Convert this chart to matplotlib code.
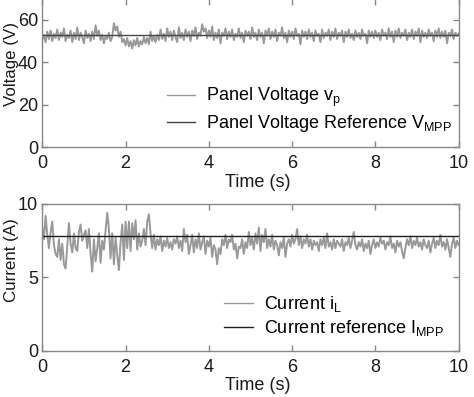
import numpy as np
import matplotlib
matplotlib.use("Agg")
import matplotlib.pyplot as plt

plt.rcParams['font.family'] = ['Liberation Sans', 'DejaVu Sans']
plt.rcParams['mathtext.fontset'] = 'custom'
plt.rcParams['mathtext.rm'] = 'Liberation Sans'
plt.rcParams['mathtext.it'] = 'Liberation Sans'

# time base (s)
t_start, t_end, n_pts = 0.0, 10.0, 251

# panel voltage v_p (V)
voltage = [
    50.5, 53.0, 49.5, 54.5, 51.0, 55.0, 50.0, 53.5, 51.5, 55.5,
    50.5, 54.0, 52.0, 56.0, 50.0, 53.0, 51.5, 55.0, 49.5, 54.0,
    51.0, 56.5, 50.5, 54.0, 52.0, 49.0, 55.0, 51.5, 53.5, 50.0,
    54.5, 51.0, 57.5, 52.5, 55.0, 50.5, 53.0, 49.0, 52.5, 51.0,
    54.0, 50.0, 52.0, 58.5, 55.0, 57.0, 52.0, 54.5, 49.5, 51.0,
    48.0, 51.5, 47.5, 50.0, 46.5, 50.5, 48.0, 51.5, 47.5, 50.0,
    48.5, 52.0, 49.0, 51.5, 48.5, 54.5, 50.0, 52.5, 49.5, 53.0,
    50.5, 55.5, 51.0, 53.5, 50.0, 56.0, 52.0, 54.5, 50.5, 55.0,
    52.0, 49.5, 56.5, 51.5, 54.0, 50.5, 55.5, 52.0, 54.5, 50.0,
    55.0, 52.5, 56.5, 51.0, 54.0, 52.5, 58.0, 54.5, 56.0, 51.5,
    55.0, 52.0, 57.0, 50.5, 54.0, 51.5, 55.5, 49.0, 54.0, 52.5,
    56.0, 51.0, 54.5, 52.0, 55.5, 50.5, 53.5, 52.0, 56.0, 51.5,
    54.0, 49.5, 55.0, 52.5, 54.5, 51.0, 56.5, 52.0, 54.0, 50.5,
    55.5, 52.0, 54.0, 49.0, 55.0, 52.5, 56.0, 51.0, 54.5, 52.0,
    55.5, 50.0, 54.0, 52.5, 56.5, 51.5, 54.0, 49.5, 55.0, 52.0,
    54.5, 51.0, 56.0, 52.5, 53.5, 48.5, 55.0, 52.0, 54.5, 51.0,
    55.5, 52.0, 54.0, 50.0, 55.0, 52.5, 53.5, 49.5, 55.5, 51.5,
    54.0, 52.5, 55.5, 50.5, 54.5, 52.0, 56.0, 51.0, 54.0, 52.5,
    55.0, 49.5, 54.5, 52.0, 55.5, 51.5, 53.5, 50.5, 55.0, 52.0,
    54.0, 51.0, 55.5, 52.5, 53.5, 49.0, 55.0, 52.0, 54.5, 51.5,
    55.0, 52.0, 54.0, 50.5, 55.5, 52.5, 54.0, 51.0, 56.0, 52.0,
    54.5, 49.5, 55.0, 52.0, 56.0, 51.5, 54.0, 52.5, 55.5, 50.5,
    54.0, 52.0, 55.5, 51.0, 54.5, 52.5, 56.0, 49.5, 55.0, 52.0,
    54.0, 51.5, 55.5, 52.5, 54.0, 50.0, 55.0, 52.0, 56.0, 51.5,
    54.5, 52.0, 55.0, 49.0, 54.0, 52.5, 55.5, 51.0, 54.0, 52.5,
    53.5,
]
v_mpp = 53.0

# inductor current i_L (A)
current = [
    8.4, 7.6, 9.2, 7.9, 7.0, 8.1, 8.8, 7.2, 6.6, 6.4,
    7.6, 6.2, 7.3, 5.9, 5.6, 7.1, 8.7, 7.3, 6.7, 8.0,
    7.0, 6.8, 8.1, 8.6, 7.5, 7.9, 8.2, 7.0, 8.3, 6.6,
    5.4, 7.6, 6.1, 7.0, 8.0, 6.0, 7.5, 6.9, 8.2, 9.4,
    8.3, 6.3, 8.0, 5.9, 7.7, 6.5, 5.5, 7.4, 8.6, 6.2,
    8.8, 7.0, 8.8, 6.8, 8.7, 7.6, 8.9, 6.9, 8.0, 7.1,
    7.5, 8.3, 7.2, 8.8, 9.3,
    8.0, 7.0, 7.9, 6.9, 7.6, 7.2, 7.8, 6.8, 7.5, 7.1,
    7.7, 7.0, 7.4, 6.9, 7.6, 7.3, 7.8, 7.0, 7.5, 6.8,
    8.3, 7.4, 7.9, 6.6, 7.2, 7.9, 6.7, 7.6, 7.0, 8.0,
    6.9, 7.4, 7.8, 6.6, 7.5, 7.1, 7.7, 6.4, 7.2, 6.9,
    5.9, 7.0, 6.6, 7.6, 7.2, 7.9, 7.0, 7.6, 7.4, 7.9,
    6.9, 7.3, 6.3, 7.1, 7.0, 7.6, 6.6, 7.4, 7.0, 8.1,
    7.2, 7.7, 6.9, 8.0, 7.3, 8.4, 6.8, 7.9, 7.4, 8.3,
    7.0, 7.6, 7.1, 7.9, 6.9, 7.5, 7.2, 6.5, 7.4, 7.0,
    7.7, 6.4, 7.3, 7.6, 7.1, 7.9, 7.3, 7.6, 8.3, 7.2,
    7.8, 7.0, 7.6, 7.3, 7.9, 7.1, 7.6, 6.9, 7.5, 7.2,
    7.4, 6.8, 7.6, 7.2, 7.7, 7.0, 8.0, 7.1, 7.4, 6.9,
    7.6, 7.0, 7.5, 7.3, 7.1, 7.6, 6.8, 7.4, 7.2, 7.7,
    7.0, 7.5, 8.1, 7.2, 6.9, 7.4, 7.1, 7.6, 6.8, 7.3,
    7.0, 7.5, 6.6, 7.2, 7.6, 7.0, 7.4, 7.1, 7.7, 7.3,
    7.5, 6.9, 7.4, 7.2, 7.8, 7.0, 7.3, 6.7, 7.5, 7.1,
    7.4, 6.8, 6.3, 7.0, 7.6, 7.2, 7.8, 7.0, 7.5, 7.2,
    7.7, 7.1, 7.4, 6.9, 7.6, 7.2, 7.0, 7.5, 6.7, 7.3,
    7.7, 7.0, 7.5, 7.2, 7.9, 7.1, 7.4, 6.9, 7.6, 7.0,
    6.4, 7.3, 7.7, 7.0, 7.5, 7.2,
]
i_mpp = 7.8

x_ticks = [0, 2, 4, 6, 8, 10]
v_ticks = [0, 20, 40, 60]
i_ticks = [0, 5, 10]

t = np.linspace(t_start, t_end, n_pts)

sig_col = '#999999'
spine_col = '#888888'
txt_col = '#1a1a1a'
fs = 13
fs_ylab = 12.2

fig = plt.figure(figsize=(4.74, 3.97), dpi=100)
ax1 = fig.add_axes([0.0892, 0.6297, 0.8785, 0.3733])
ax2 = fig.add_axes([0.0892, 0.1159, 0.8785, 0.3703])

def style(ax):
    for s in ax.spines.values():
        s.set_color(spine_col)
        s.set_linewidth(1.0)
    ax.tick_params(direction='in', length=4, width=1.0, color=spine_col,
                   top=True, right=True, labelsize=fs, labelcolor=txt_col)
    ax.tick_params(axis='x', pad=6)
    ax.tick_params(axis='y', pad=3)

ylab_x = -0.057

ax1.plot(t, voltage, color=sig_col, lw=1.4, label=r'Panel Voltage v$_\mathrm{p}$')
ax1.plot([t_start, t_end], [v_mpp, v_mpp], color='#474747', lw=1.0,
         label=r'Panel Voltage Reference V$_\mathrm{MPP}$')
ax1.set_xlim(0, 10)
ax1.set_ylim(0, 70)
ax1.set_xticks(x_ticks)
ax1.set_yticks(v_ticks)
style(ax1)
ax1.set_xlabel('Time (s)', fontsize=fs, color=txt_col)
ax1.set_ylabel('Voltage (V)', fontsize=fs_ylab, color=txt_col)
ax1.xaxis.set_label_coords(0.518, -0.18)
ax1.yaxis.set_label_coords(ylab_x, 0.56)
leg1 = ax1.legend(loc='lower right', bbox_to_anchor=(1.015, 0.0), frameon=False, fontsize=fs,
                  handlelength=1.6, handletextpad=0.6, labelspacing=0.25, borderaxespad=0.3)
leg1.legend_handles[0].set_linewidth(1.0)

ax2.plot(t, current, color=sig_col, lw=1.4, label=r'Current i$_\mathrm{L}$')
ax2.plot([t_start, t_end], [i_mpp, i_mpp], color='#1e1e1e', lw=1.0,
         label=r'Current reference I$_\mathrm{MPP}$')
ax2.set_xlim(0, 10)
ax2.set_ylim(0, 10)
ax2.set_xticks(x_ticks)
ax2.set_yticks(i_ticks)
style(ax2)
ax2.set_xlabel('Time (s)', fontsize=fs, color=txt_col)
ax2.set_ylabel('Current (A)', fontsize=fs_ylab, color=txt_col)
ax2.xaxis.set_label_coords(0.518, -0.175)
ax2.yaxis.set_label_coords(ylab_x, 0.62)
leg2 = ax2.legend(loc='lower right', bbox_to_anchor=(0.995, 0.0), frameon=False, fontsize=fs,
                  handlelength=1.6, handletextpad=0.6, labelspacing=0.25, borderaxespad=0.3)
leg2.legend_handles[0].set_linewidth(1.0)

fig.savefig('out.png', dpi=100)
